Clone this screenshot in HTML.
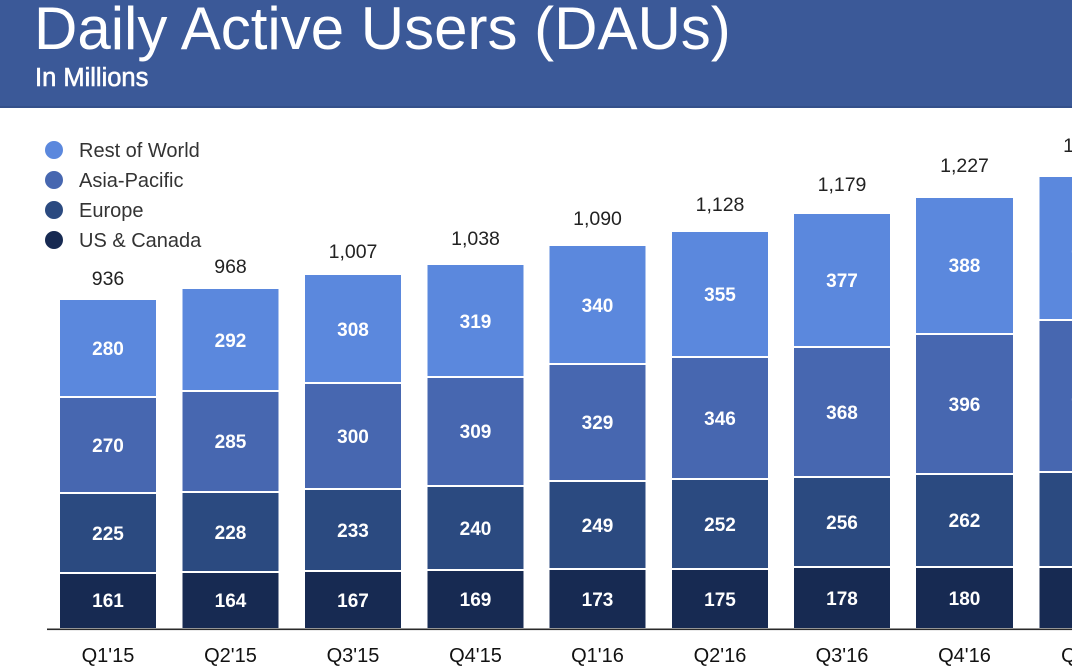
<!DOCTYPE html>
<html>
<head>
<meta charset="utf-8">
<style>
  html,body{margin:0;padding:0;background:#fff;}
  body{width:1072px;height:670px;overflow:hidden;}
  svg{display:block;font-family:"Liberation Sans",Arial,sans-serif;}
  .seg{fill:#fff;font-size:19px;font-weight:bold;text-anchor:middle;}
  .tot{fill:#222;font-size:19.5px;text-anchor:middle;}
  .xl{fill:#111;font-size:20px;text-anchor:middle;}
  .lg{fill:#333;font-size:20px;}
</style>
</head>
<body>
<svg width="1072" height="670" viewBox="0 0 1072 670" xmlns="http://www.w3.org/2000/svg">
  <!-- header -->
  <rect x="0" y="0" width="1072" height="108" fill="#3b5998"/>
  <rect x="0" y="106" width="1072" height="2" fill="#34508a"/>
  <text x="34" y="49" fill="#fff" font-size="60">Daily Active Users (DAUs)</text>
  <text x="35" y="86" fill="#fff" stroke="#fff" stroke-width="0.6" font-size="25.5">In Millions</text>

  <!-- legend -->
  <circle cx="54" cy="150" r="9" fill="#5b88dd"/>
  <circle cx="54" cy="180" r="9" fill="#4767b0"/>
  <circle cx="54" cy="210" r="9" fill="#2b4a80"/>
  <circle cx="54" cy="240" r="9" fill="#172a52"/>
  <text class="lg" x="79" y="157">Rest of World</text>
  <text class="lg" x="79" y="187">Asia-Pacific</text>
  <text class="lg" x="79" y="217">Europe</text>
  <text class="lg" x="79" y="247">US &amp; Canada</text>

  <!-- Q1'15 -->
  <g>
    <rect x="60" y="300" width="96" height="96" fill="#5b88dd"/>
    <rect x="60" y="398" width="96" height="94" fill="#4767b0"/>
    <rect x="60" y="494" width="96" height="78" fill="#2b4a80"/>
    <rect x="60" y="574" width="96" height="54" fill="#172a52"/>
    <text class="seg" x="108" y="355">280</text>
    <text class="seg" x="108" y="452">270</text>
    <text class="seg" x="108" y="540">225</text>
    <text class="seg" x="108" y="607">161</text>
    <text class="tot" x="108" y="285">936</text>
    <text class="xl" x="108" y="662">Q1'15</text>
  </g>
  <!-- Q2'15 -->
  <g>
    <rect x="182.5" y="289" width="96" height="101" fill="#5b88dd"/>
    <rect x="182.5" y="392" width="96" height="99" fill="#4767b0"/>
    <rect x="182.5" y="493" width="96" height="78" fill="#2b4a80"/>
    <rect x="182.5" y="573" width="96" height="55" fill="#172a52"/>
    <text class="seg" x="230.5" y="347">292</text>
    <text class="seg" x="230.5" y="448">285</text>
    <text class="seg" x="230.5" y="539">228</text>
    <text class="seg" x="230.5" y="607">164</text>
    <text class="tot" x="230.5" y="273">968</text>
    <text class="xl" x="230.5" y="662">Q2'15</text>
  </g>
  <!-- Q3'15 -->
  <g>
    <rect x="305" y="275" width="96" height="107" fill="#5b88dd"/>
    <rect x="305" y="384" width="96" height="104" fill="#4767b0"/>
    <rect x="305" y="490" width="96" height="80" fill="#2b4a80"/>
    <rect x="305" y="572" width="96" height="56" fill="#172a52"/>
    <text class="seg" x="353" y="336">308</text>
    <text class="seg" x="353" y="443">300</text>
    <text class="seg" x="353" y="537">233</text>
    <text class="seg" x="353" y="607">167</text>
    <text class="tot" x="353" y="258">1,007</text>
    <text class="xl" x="353" y="662">Q3'15</text>
  </g>
  <!-- Q4'15 -->
  <g>
    <rect x="427.5" y="265" width="96" height="111" fill="#5b88dd"/>
    <rect x="427.5" y="378" width="96" height="107" fill="#4767b0"/>
    <rect x="427.5" y="487" width="96" height="82" fill="#2b4a80"/>
    <rect x="427.5" y="571" width="96" height="57" fill="#172a52"/>
    <text class="seg" x="475.5" y="328">319</text>
    <text class="seg" x="475.5" y="438">309</text>
    <text class="seg" x="475.5" y="535">240</text>
    <text class="seg" x="475.5" y="606">169</text>
    <text class="tot" x="475.5" y="245">1,038</text>
    <text class="xl" x="475.5" y="662">Q4'15</text>
  </g>
  <!-- Q1'16 -->
  <g>
    <rect x="549.5" y="246" width="96" height="117" fill="#5b88dd"/>
    <rect x="549.5" y="365" width="96" height="115" fill="#4767b0"/>
    <rect x="549.5" y="482" width="96" height="86" fill="#2b4a80"/>
    <rect x="549.5" y="570" width="96" height="58" fill="#172a52"/>
    <text class="seg" x="597.5" y="312">340</text>
    <text class="seg" x="597.5" y="429">329</text>
    <text class="seg" x="597.5" y="532">249</text>
    <text class="seg" x="597.5" y="606">173</text>
    <text class="tot" x="597.5" y="225">1,090</text>
    <text class="xl" x="597.5" y="662">Q1'16</text>
  </g>
  <!-- Q2'16 -->
  <g>
    <rect x="672" y="232" width="96" height="124" fill="#5b88dd"/>
    <rect x="672" y="358" width="96" height="120" fill="#4767b0"/>
    <rect x="672" y="480" width="96" height="88" fill="#2b4a80"/>
    <rect x="672" y="570" width="96" height="58" fill="#172a52"/>
    <text class="seg" x="720" y="301">355</text>
    <text class="seg" x="720" y="425">346</text>
    <text class="seg" x="720" y="531">252</text>
    <text class="seg" x="720" y="606">175</text>
    <text class="tot" x="720" y="211">1,128</text>
    <text class="xl" x="720" y="662">Q2'16</text>
  </g>
  <!-- Q3'16 -->
  <g>
    <rect x="794" y="214" width="96" height="132" fill="#5b88dd"/>
    <rect x="794" y="348" width="96" height="128" fill="#4767b0"/>
    <rect x="794" y="478" width="96" height="88" fill="#2b4a80"/>
    <rect x="794" y="568" width="96" height="60" fill="#172a52"/>
    <text class="seg" x="842" y="287">377</text>
    <text class="seg" x="842" y="419">368</text>
    <text class="seg" x="842" y="529">256</text>
    <text class="seg" x="842" y="605">178</text>
    <text class="tot" x="842" y="191">1,179</text>
    <text class="xl" x="842" y="662">Q3'16</text>
  </g>
  <!-- Q4'16 -->
  <g>
    <rect x="916" y="198" width="97" height="135" fill="#5b88dd"/>
    <rect x="916" y="335" width="97" height="138" fill="#4767b0"/>
    <rect x="916" y="475" width="97" height="91" fill="#2b4a80"/>
    <rect x="916" y="568" width="97" height="60" fill="#172a52"/>
    <text class="seg" x="964.5" y="272">388</text>
    <text class="seg" x="964.5" y="411">396</text>
    <text class="seg" x="964.5" y="527">262</text>
    <text class="seg" x="964.5" y="605">180</text>
    <text class="tot" x="964.5" y="172">1,227</text>
    <text class="xl" x="964.5" y="662">Q4'16</text>
  </g>
  <!-- Q1'17 (clipped) -->
  <g>
    <rect x="1039.5" y="177" width="96" height="142" fill="#5b88dd"/>
    <rect x="1039.5" y="321" width="96" height="150" fill="#4767b0"/>
    <rect x="1039.5" y="473" width="96" height="93" fill="#2b4a80"/>
    <rect x="1039.5" y="568" width="96" height="60" fill="#172a52"/>
    <text class="seg" x="1087.5" y="255">423</text>
    <text class="seg" x="1087.5" y="403">414</text>
    <text class="seg" x="1087.5" y="526">265</text>
    <text class="seg" x="1087.5" y="604">182</text>
    <text class="tot" x="1087.5" y="152">1,284</text>
    <text class="xl" x="1087.5" y="662">Q1'17</text>
  </g>

  <!-- axis -->
  <rect x="47" y="628.5" width="1025" height="1.6" fill="#2a2a2a"/>

  <!-- faint footnote (cut off) -->
  <text x="52" y="680" fill="#c4c4c4" font-size="14">Estimated 2015</text>
</svg>
</body>
</html>
